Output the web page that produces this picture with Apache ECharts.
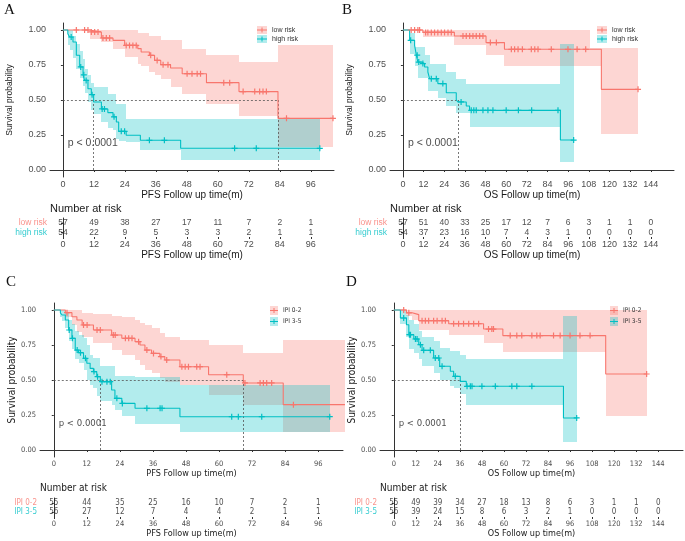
<!DOCTYPE html>
<html>
<head>
<meta charset="utf-8">
<script src="https://cdn.jsdelivr.net/npm/echarts@6/dist/echarts.min.js"></script>
<style>html,body{margin:0;padding:0;background:#fff}#main{width:685px;height:541px}</style>
</head>
<body>
<div id="main"></div>
<script>
// ---------- values ----------
const ticksPFS = [0, 12, 24, 36, 48, 60, 72, 84, 96];
const ticksOS = [0, 12, 24, 36, 48, 60, 72, 84, 96, 108, 120, 132, 144];
const ticksSurv = [0, 0.25, 0.5, 0.75, 1];

// A: PFS, risk score
const aLowTime = [0, 10.4, 14.9, 19.4, 23.9, 29, 30.3, 33.5, 35.5, 37.9, 41.7, 46.2, 55.6, 68.2, 83.3, 104.6];
const aLowSurv = [1, 0.986, 0.943, 0.926, 0.89, 0.867, 0.843, 0.819, 0.783, 0.752, 0.729, 0.688, 0.624, 0.56, 0.369, 0.369];
const aLowUpper = [1, 1, 1, 1, 1, 0.98, 0.98, 0.957, 0.957, 0.926, 0.926, 0.867, 0.82, 0.77, 0.89, 0.89];
const aLowLower = [1, 0.936, 0.914, 0.867, 0.807, 0.76, 0.74, 0.7, 0.68, 0.652, 0.593, 0.545, 0.47, 0.385, 0.165, 0.165];
const aLowCensor = [5.2, 8.4, 9.7, 11, 12.3, 13.6, 15.5, 16.8, 18.1, 24.5, 25.8, 27.1, 28.4, 34, 36.5, 38.8, 40.7, 48.1, 50, 52, 53.3, 62.3, 64.6, 69.8, 74.3, 76.2, 77.5, 78.8, 86.6, 104.6];
const aHighTime = [0, 1.9, 2.6, 3.9, 5.2, 6.5, 7.8, 8.4, 9.7, 11, 11.9, 14.9, 17.4, 19.4, 20.7, 21.6, 24.5, 30, 45.6, 99.5];
const aHighSurv = [1, 0.974, 0.95, 0.914, 0.82, 0.736, 0.68, 0.64, 0.58, 0.538, 0.486, 0.436, 0.41, 0.38, 0.343, 0.276, 0.248, 0.212, 0.155, 0.155];
const aHighUpper = [1, 1, 1, 0.957, 0.9, 0.85, 0.795, 0.72, 0.676, 0.62, 0.593, 0.593, 0.545, 0.545, 0.474, 0.474, 0.367, 0.367, 0.367, 0.367];
const aHighLower = [1, 0.89, 0.86, 0.8, 0.72, 0.66, 0.6, 0.55, 0.486, 0.43, 0.4, 0.343, 0.3, 0.283, 0.224, 0.21, 0.2, 0.14, 0.069, 0.069];
const aHighCensor = [3.2, 6.9, 8.1, 9.0, 11.3, 15.2, 16.1, 19.8, 22.6, 23.9, 33.5, 39.3, 66.5, 74.9, 99.5];
const aRiskLow = [57, 49, 38, 27, 17, 11, 7, 2, 1];
const aRiskHigh = [54, 22, 9, 5, 3, 3, 2, 1, 1];
const aMedians = [11.9, 83.3];

// B: OS, risk score
const bLowTime = [0, 11.6, 29.9, 48.3, 59, 108.9, 115.3, 136.6];
const bLowSurv = [1, 0.983, 0.957, 0.91, 0.862, 0.862, 0.576, 0.576];
const bLowUpper = [1, 1, 1, 1, 1, 0.87, 0.87, 0.87];
const bLowLower = [1, 0.952, 0.89, 0.82, 0.745, 0.745, 0.26, 0.26];
const bLowCensor = [4.8, 6.8, 8.7, 9.7, 13.2, 14.5, 16.5, 18.4, 20.3, 22.3, 24.2, 26.2, 28.1, 34.9, 36.8, 38.8, 40.7, 42.6, 44.6, 46.5, 50.8, 54.3, 63, 64.9, 66.9, 69.4, 74.6, 76.6, 78.5, 86.2, 95.9, 101.2, 106.2, 136.6];
const bHighTime = [0, 3.9, 6.8, 7.8, 8.7, 10.7, 12.6, 14.5, 15.5, 20.3, 25.2, 31.0, 31.9, 36.8, 38.7, 91.5, 99.2];
const bHighSurv = [1, 0.926, 0.89, 0.82, 0.771, 0.76, 0.736, 0.7, 0.652, 0.617, 0.552, 0.502, 0.486, 0.457, 0.426, 0.214, 0.214];
const bHighUpper = [1, 0.98, 0.88, 0.88, 0.88, 0.88, 0.82, 0.82, 0.76, 0.76, 0.7, 0.652, 0.652, 0.617, 0.617, 0.9, 0.9];
const bHighLower = [1, 0.83, 0.74, 0.74, 0.657, 0.657, 0.657, 0.562, 0.562, 0.514, 0.455, 0.41, 0.41, 0.41, 0.305, 0.055, 0.055];
const bHighCensor = [4.5, 8.3, 9.2, 11.6, 16.5, 19.4, 23.2, 33.8, 39.7, 41.2, 42.6, 46.5, 49.4, 52.3, 60, 67.1, 74.8, 90.1, 99.2];
const bRiskLow = [57, 51, 40, 33, 25, 17, 12, 7, 6, 3, 1, 1, 0];
const bRiskHigh = [54, 37, 23, 16, 10, 7, 4, 3, 1, 0, 0, 0, 0];
const bMedians = [31.9];

// C: PFS, IPI
const cLowTime = [0, 4.2, 6.6, 8.4, 10.3, 14.4, 21, 24.7, 29.5, 31.3, 33.1, 35.5, 38.5, 40.3, 45.8, 56.2, 68.8, 83.3, 105.7];
const cLowSurv = [1, 0.981, 0.952, 0.929, 0.893, 0.857, 0.821, 0.798, 0.774, 0.75, 0.714, 0.69, 0.667, 0.643, 0.595, 0.538, 0.479, 0.324, 0.324];
const cLowUpper = [1, 1, 1, 1, 0.98, 0.97, 0.96, 0.95, 0.93, 0.91, 0.893, 0.87, 0.833, 0.81, 0.785, 0.752, 0.693, 0.788, 0.788];
const cLowLower = [1, 0.952, 0.893, 0.845, 0.81, 0.762, 0.714, 0.679, 0.643, 0.607, 0.571, 0.548, 0.512, 0.488, 0.464, 0.395, 0.324, 0.131, 0.131];
const cLowCensor = [4.8, 10.8, 12.1, 15.7, 16.9, 21.6, 22.3, 26, 27.2, 28.4, 30.8, 33.8, 36.2, 38.9, 41, 46.5, 47.7, 48.9, 51.9, 53.1, 62.8, 69.4, 74.9, 76.1, 77.3, 79.1, 87, 105.7];
const cHighTime = [0, 2.4, 3.0, 4.2, 5.4, 6.6, 7.8, 9.0, 10.8, 12.0, 13.2, 14.4, 15.6, 16.9, 21.0, 22.2, 24.7, 29.5, 45.8, 100.2];
const cHighSurv = [1, 0.98, 0.964, 0.929, 0.857, 0.798, 0.714, 0.695, 0.655, 0.62, 0.583, 0.56, 0.524, 0.488, 0.429, 0.369, 0.333, 0.298, 0.238, 0.238];
const cHighUpper = [1, 1, 1, 0.98, 0.93, 0.9, 0.85, 0.82, 0.8, 0.75, 0.68, 0.66, 0.657, 0.598, 0.598, 0.526, 0.526, 0.52, 0.464, 0.464];
const cHighLower = [1, 0.95, 0.92, 0.871, 0.776, 0.72, 0.65, 0.62, 0.574, 0.5, 0.467, 0.44, 0.383, 0.35, 0.32, 0.288, 0.24, 0.186, 0.126, 0.126];
const cHighCensor = [5.6, 6.8, 8.5, 9.7, 11.5, 14.6, 15.9, 17.5, 19.3, 20.5, 22.9, 24.9, 33.8, 38.6, 39.3, 64.6, 67, 75.5, 100.2];
const cRiskLow = [55, 44, 35, 25, 16, 10, 7, 2, 1];
const cRiskHigh = [56, 27, 12, 7, 4, 4, 2, 1, 1];
const cMedians = [16.9, 68.8];

// D: OS, IPI
const dLowTime = [0, 6.9, 10, 13.6, 29.9, 48.9, 59.4, 115.4, 137.7];
const dLowSurv = [1, 0.98, 0.967, 0.924, 0.902, 0.864, 0.817, 0.543, 0.543];
const dLowUpper = [1, 1, 1, 1, 1, 1, 1, 1, 1];
const dLowLower = [1, 0.96, 0.93, 0.86, 0.824, 0.764, 0.698, 0.245, 0.245];
const dLowCensor = [5.4, 8.2, 15.4, 17.2, 19, 21.7, 23.6, 26.3, 28.1, 32.6, 35.3, 38, 40.8, 43.5, 46.2, 51.6, 53.4, 54.3, 63.4, 67, 69.7, 75.2, 77.9, 79.7, 87, 90.6, 96, 101.4, 106.9, 137.7];
const dHighTime = [0, 3.6, 6.9, 8.2, 10.9, 13.6, 15.4, 21.7, 25, 30.8, 32.6, 36.2, 39.5, 92.4, 99.6];
const dHighSurv = [1, 0.943, 0.895, 0.824, 0.793, 0.752, 0.712, 0.657, 0.598, 0.562, 0.526, 0.49, 0.455, 0.229, 0.229];
const dHighUpper = [1, 1, 0.967, 0.93, 0.9, 0.848, 0.81, 0.776, 0.729, 0.705, 0.705, 0.68, 0.65, 0.955, 0.955];
const dHighLower = [1, 0.9, 0.81, 0.72, 0.69, 0.65, 0.6, 0.55, 0.5, 0.46, 0.44, 0.4, 0.324, 0.055, 0.055];
const dHighCensor = [5.4, 8.5, 9.1, 11.8, 12.7, 14.5, 16.3, 19.9, 22.6, 24.5, 26.3, 33.5, 39.9, 41.7, 42.6, 48, 55.3, 64.3, 67, 75.2, 99.6];
const dRiskLow = [55, 49, 39, 34, 27, 18, 13, 8, 6, 3, 1, 1, 0];
const dRiskHigh = [56, 39, 24, 15, 8, 6, 3, 2, 1, 0, 0, 0, 0];
const dMedians = [36.2];

// ---------- styling ----------
const RED = '#F8766D', CYAN = '#00BFC4';
const RED_BAND = 'rgba(248,118,109,0.3)', CYAN_BAND = 'rgba(0,191,196,0.3)';
const AXIS = '#333', TICKTXT = '#4d4d4d', TXT = '#1a1a1a';
const WIDE = '"Liberation Sans", Arial, sans-serif';
const NARROW = '"Liberation Sans Narrow", "Arial Narrow", "DejaVu Sans Condensed", sans-serif';
const PLUS = 'path://M0,4H10V6H0Z M4,0H6V10H4Z';

const topStyle = { family: WIDE, tick: 9, xTitle: 10, yTitle: 8.5, risk: 8.5, riskTitle: 11, pval: 10.5, legend: 7, xGap: 11, yGap: 36, tableGap: 10 };
const botStyle = { family: NARROW, tick: 7.5, xTitle: 9, yTitle: 10, risk: 8, riskTitle: 10, pval: 9.5, legend: 6.5, xGap: 12, yGap: 22, tableGap: 11 };

const panels = [
  { letter: 'A', lx: 4, ly: 3, st: topStyle, left: 50, top: 23, w: 284, tableTop: 218, riskTop: 203,
    xmin: -5, xmax: 105, ticks: ticksPFS, xName: 'PFS Follow up time(m)', medians: aMedians, pAt: [1.9, 0.19],
    legend: { x: 257, y: 30, dy: 9, w: 10, h: 8 },
    groups: [
      { name: 'low risk', color: RED, band: RED_BAND, t: aLowTime, s: aLowSurv, hi: aLowUpper, lo: aLowLower, cens: aLowCensor, risk: aRiskLow },
      { name: 'high risk', color: CYAN, band: CYAN_BAND, t: aHighTime, s: aHighSurv, hi: aHighUpper, lo: aHighLower, cens: aHighCensor, risk: aRiskHigh }
    ] },
  { letter: 'B', lx: 342, ly: 3, st: topStyle, left: 390, top: 23, w: 284, tableTop: 218, riskTop: 203,
    xmin: -7.5, xmax: 157.5, ticks: ticksOS, xName: 'OS Follow up time(m)', medians: bMedians, pAt: [2.9, 0.19],
    legend: { x: 597, y: 30, dy: 9, w: 10, h: 8 },
    groups: [
      { name: 'low risk', color: RED, band: RED_BAND, t: bLowTime, s: bLowSurv, hi: bLowUpper, lo: bLowLower, cens: bLowCensor, risk: bRiskLow },
      { name: 'high risk', color: CYAN, band: CYAN_BAND, t: bHighTime, s: bHighSurv, hi: bHighUpper, lo: bHighLower, cens: bHighCensor, risk: bRiskHigh }
    ] },
  { letter: 'C', lx: 6, ly: 275, st: botStyle, left: 40, top: 303, w: 303, tableTop: 498, riskTop: 483,
    xmin: -5, xmax: 105, ticks: ticksPFS, xName: 'PFS Follow up time(m)', medians: cMedians, pAt: [1.8, 0.186],
    legend: { x: 270, y: 310.5, dy: 11, w: 8, h: 9 },
    groups: [
      { name: 'IPI 0-2', color: RED, band: RED_BAND, t: cLowTime, s: cLowSurv, hi: cLowUpper, lo: cLowLower, cens: cLowCensor, risk: cRiskLow },
      { name: 'IPI 3-5', color: CYAN, band: CYAN_BAND, t: cHighTime, s: cHighSurv, hi: cHighUpper, lo: cHighLower, cens: cHighCensor, risk: cRiskHigh }
    ] },
  { letter: 'D', lx: 346, ly: 275, st: botStyle, left: 380, top: 303, w: 303, tableTop: 498, riskTop: 483,
    xmin: -7.5, xmax: 157.5, ticks: ticksOS, xName: 'OS Follow up time(m)', medians: dMedians, pAt: [2.7, 0.186],
    legend: { x: 610, y: 310.5, dy: 11, w: 8, h: 9 },
    groups: [
      { name: 'IPI 0-2', color: RED, band: RED_BAND, t: dLowTime, s: dLowSurv, hi: dLowUpper, lo: dLowLower, cens: dLowCensor, risk: dRiskLow },
      { name: 'IPI 3-5', color: CYAN, band: CYAN_BAND, t: dHighTime, s: dHighSurv, hi: dHighUpper, lo: dHighLower, cens: dHighCensor, risk: dRiskHigh }
    ] }
];

// value of a step curve at time x
function survAt(t, s, x) {
  let v = s[0];
  for (let i = 0; i < t.length; i++) if (t[i] <= x) v = s[i];
  return v;
}

const option = { animation: false, backgroundColor: '#fff', grid: [], xAxis: [], yAxis: [], series: [], title: [], graphic: [] };

function xAxisFor(p, gi, gap) {
  const st = p.st;
  return {
    gridIndex: gi, type: 'value', min: p.xmin, max: p.xmax,
    name: p.xName, nameLocation: 'middle', nameGap: gap,
    nameTextStyle: { fontSize: st.xTitle, fontFamily: st.family, color: TXT },
    axisLine: { lineStyle: { color: AXIS, width: 1 } },
    axisTick: { show: true, length: 2, customValues: p.ticks, lineStyle: { color: AXIS } },
    axisLabel: { customValues: p.ticks, margin: 3, fontSize: st.tick, fontFamily: st.family, color: TICKTXT },
    splitLine: { show: false }
  };
}

panels.forEach(p => {
  const st = p.st;
  const gi = option.grid.length;
  option.grid.push({ left: p.left, top: p.top, width: p.w, height: 154, outerBoundsMode: 'none', containLabel: false });
  option.grid.push({ left: p.left, top: p.tableTop, width: p.w, height: 19, outerBoundsMode: 'none', containLabel: false });

  option.xAxis.push(xAxisFor(p, gi, st.xGap));
  option.xAxis.push(xAxisFor(p, gi + 1, st.tableGap));

  option.yAxis.push({
    gridIndex: gi, type: 'value', min: -0.05, max: 1.05,
    name: 'Survival probability', nameLocation: 'middle', nameGap: st.yGap,
    nameTextStyle: { fontSize: st.yTitle, fontFamily: st.family, color: TXT },
    axisLine: { show: true, lineStyle: { color: AXIS, width: 1 } },
    axisTick: { show: true, length: 2, customValues: ticksSurv, lineStyle: { color: AXIS } },
    axisLabel: { customValues: ticksSurv, margin: 4, fontSize: st.tick, fontFamily: st.family, color: TICKTXT,
      formatter: v => Number(v).toFixed(2) },
    splitLine: { show: false }
  });
  const rowNames = p.groups.map(g => g.name);
  option.yAxis.push({
    gridIndex: gi + 1, type: 'category', data: rowNames, inverse: true,
    axisLine: { show: true, lineStyle: { color: AXIS, width: 1 } },
    axisTick: { show: true, length: 2, alignWithLabel: true, interval: 0, lineStyle: { color: AXIS } },
    axisLabel: { interval: 0, hideOverlap: false, margin: 3, fontSize: st.risk, fontFamily: st.family,
      color: (v, i) => (i === 0 ? 'rgba(248,118,109,0.8)' : 'rgba(0,191,196,0.8)') }
  });

  const mx = gi, my = gi;
  p.groups.forEach(g => {
    // confidence band: one rect per step interval
    const bandRows = [];
    for (let i = 0; i < g.t.length - 1; i++) bandRows.push([g.t[i], g.t[i + 1], g.lo[i], g.hi[i]]);
    option.series.push({
      type: 'custom', xAxisIndex: mx, yAxisIndex: my, z: 1, silent: true, clip: false,
      encode: { x: [0, 1], y: [2, 3] },
      data: bandRows,
      renderItem: (params, api) => {
        const a = api.coord([api.value(0), api.value(3)]);
        const b = api.coord([api.value(1), api.value(2)]);
        const x0 = Math.round(a[0]), x1 = Math.round(b[0]);
        const y0 = Math.round(a[1]), y1 = Math.round(b[1]);
        return { type: 'rect', shape: { x: x0, y: y0, width: x1 - x0, height: y1 - y0 }, style: { fill: g.band } };
      }
    });
    // survival curve
    option.series.push({
      type: 'line', step: 'end', xAxisIndex: mx, yAxisIndex: my, z: 3, symbol: 'none', silent: true,
      lineStyle: { color: g.color, width: 1.1 },
      data: g.t.map((t, i) => [t, g.s[i]])
    });
    // censor ticks
    option.series.push({
      type: 'scatter', xAxisIndex: mx, yAxisIndex: my, z: 4, symbol: PLUS, symbolSize: 6, silent: true,
      itemStyle: { color: g.color, opacity: 1 },
      data: g.cens.map(c => [c, survAt(g.t, g.s, c)])
    });
    // number at risk row
    option.series.push({
      type: 'scatter', xAxisIndex: gi + 1, yAxisIndex: gi + 1, symbolSize: 1, silent: true,
      itemStyle: { color: 'rgba(0,0,0,0)' },
      label: { show: true, position: 'inside', fontSize: st.risk, fontFamily: st.family, color: '#222',
        formatter: prm => String(prm.value[2]) },
      labelLayout: { hideOverlap: false },
      data: p.ticks.map((tk, i) => [tk, g.name, g.risk[i]])
    });
  });

  // median guide lines
  const mMax = Math.max(...p.medians);
  const segs = [{ coords: [[0, 0.5], [mMax, 0.5]] }].concat(p.medians.map(m => ({ coords: [[m, 0.5], [m, 0]] })));
  option.series.push({
    type: 'lines', coordinateSystem: 'cartesian2d', xAxisIndex: mx, yAxisIndex: my, z: 2, silent: true,
    lineStyle: { color: '#555', width: 0.8, type: [2, 2], opacity: 1 },
    data: segs
  });
  // p value
  option.series.push({
    type: 'scatter', xAxisIndex: mx, yAxisIndex: my, symbolSize: 0, silent: true, z: 5,
    label: { show: true, position: 'right', distance: 0, formatter: 'p < 0.0001', fontSize: st.pval, fontFamily: st.family, color: TXT },
    data: [p.pAt]
  });

  option.title.push({ text: p.letter, left: p.lx, top: p.ly, padding: 0,
    textStyle: { fontFamily: '"Liberation Serif", "Times New Roman", serif', fontSize: 15, fontWeight: 'normal', color: '#111' } });
  option.title.push({ text: 'Number at risk', left: p.left, top: p.riskTop, padding: 0,
    textStyle: { fontFamily: st.family, fontSize: st.riskTitle, fontWeight: 'normal', color: TXT } });

  // legend keys
  const L = p.legend;
  p.groups.forEach((g, j) => {
    const cy = L.y + j * L.dy;
    option.graphic.push({ type: 'rect', z: 10, shape: { x: L.x, y: cy - L.h / 2, width: L.w, height: L.h }, style: { fill: g.band } });
    option.graphic.push({ type: 'line', z: 11, shape: { x1: L.x, y1: cy, x2: L.x + L.w, y2: cy }, style: { stroke: g.color, lineWidth: 1 } });
    option.graphic.push({ type: 'line', z: 11, shape: { x1: L.x + L.w / 2, y1: cy - 2.5, x2: L.x + L.w / 2, y2: cy + 2.5 }, style: { stroke: g.color, lineWidth: 1 } });
    option.graphic.push({ type: 'text', z: 11, x: L.x + L.w + 5, y: cy,
      style: { text: g.name, fill: '#333', fontSize: st.legend, fontFamily: st.family, verticalAlign: 'middle', align: 'left' } });
  });
});

const chart = echarts.init(document.getElementById('main'), null, { renderer: 'canvas' });
chart.setOption(option);
</script>
</body>
</html>
